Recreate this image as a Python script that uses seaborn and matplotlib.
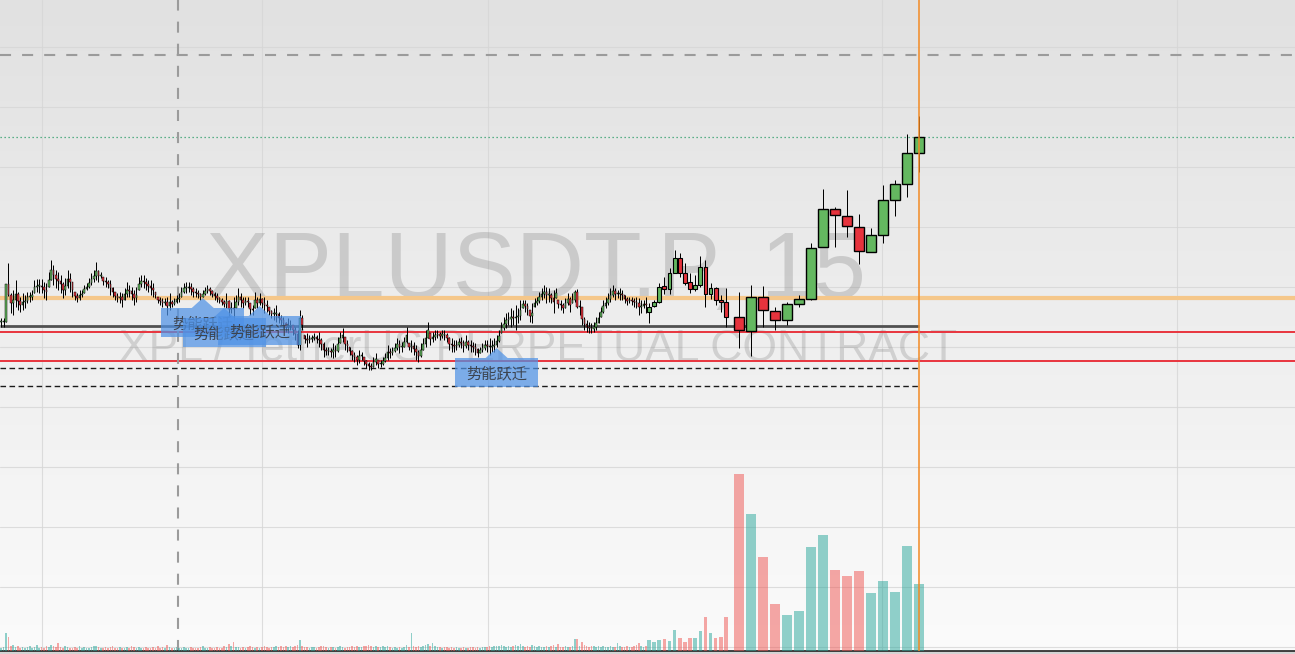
import numpy as np
import matplotlib
matplotlib.use("Agg")
import matplotlib.pyplot as plt
import matplotlib.transforms as mtransforms
from matplotlib.patches import Polygon, Rectangle
from matplotlib.colors import LinearSegmentedColormap
import seaborn as sns

sns.set_theme(style="white")
plt.rcParams['font.family'] = ['Noto Sans CJK SC', 'DejaVu Sans']

# ---------------- texts ----------------
symbol_title = "XPLUSDT.P, 15"
symbol_desc = "XPL / TetherUS PERPETUAL CONTRACT"
signal_text = "势能跃迁"

# ---------------- data (prices in thousandths of USDT) ----------------
# dense (compressed) history: high / low / close, open = previous close
dense_high = [
    682, 682, 716, 737, 707, 710, 720, 708, 703, 707,
    705, 708, 708, 710, 720, 721, 721, 721, 718, 717,
    728, 740, 735, 730, 728, 725, 718, 722, 730, 727,
    718, 708, 707, 710, 710, 715, 717, 722, 727, 730,
    738, 730, 728, 723, 723, 720, 720, 713, 708, 707,
    708, 707, 712, 718, 715, 713, 710, 713, 723, 725,
    725, 722, 720, 720, 717, 708, 703, 703, 702, 702,
    703, 707, 700, 702, 705, 707, 713, 717, 718, 718,
    717, 713, 712, 710, 707, 710, 713, 715, 713, 710,
    708, 707, 703, 702, 700, 707, 700, 698, 703, 705,
    712, 707, 703, 703, 703, 697, 695, 708, 703, 707,
    702, 703, 700, 693, 690, 692, 695, 688, 685, 683,
    678, 682, 680, 675, 673, 670, 690, 685, 665, 667,
    665, 665, 667, 665, 668, 662, 658, 653, 653, 652,
    657, 655, 663, 668, 672, 663, 660, 653, 650, 648,
    645, 650, 648, 643, 640, 638, 637, 643, 647, 640,
    640, 643, 647, 655, 652, 653, 657, 662, 660, 658,
    663, 673, 657, 660, 658, 655, 650, 657, 662, 670,
    678, 667, 668, 670, 670, 668, 670, 670, 667, 663,
    662, 660, 660, 662, 663, 660, 665, 660, 660, 658,
    657, 652, 653, 657, 660, 660, 662, 660, 662, 665, 670, 678, 683, 687,
    688, 692, 690, 695, 692, 700, 700, 700, 697, 690,
    697, 702, 703, 708, 712, 715, 713, 712, 707,
    710, 712, 700, 700, 697, 702, 707,
    703, 707, 710, 711, 700, 693, 683, 680, 678, 677,
    678, 683, 688, 693, 700, 703, 707, 712, 715, 712,
    710, 712, 710, 705, 703, 703, 703, 702, 703, 702,
    700, 700, 703,
]
dense_low = [
    673, 673, 678, 704, 687, 685, 693, 690, 688, 690,
    692, 697, 698, 700, 707, 708, 707, 707, 702, 700,
    713, 720, 715, 712, 710, 707, 702, 705, 712, 708,
    703, 700, 698, 700, 703, 707, 710, 712, 715, 718,
    720, 718, 722, 715, 713, 712, 705, 703, 700, 698,
    697, 693, 700, 703, 703, 700, 695, 698, 710, 713,
    712, 710, 708, 705, 703, 702, 697, 695, 693, 695,
    685, 690, 693, 695, 697, 698, 703, 707, 707, 708,
    705, 703, 703, 702, 700, 703, 705, 707, 705, 703,
    700, 698, 697, 695, 693, 692, 683, 687, 680, 692,
    695, 693, 692, 695, 693, 685, 685, 692, 692, 695,
    692, 687, 688, 685, 682, 680, 678, 677, 675, 672,
    668, 667, 670, 665, 660, 652, 650, 670, 657, 653,
    657, 658, 660, 657, 653, 650, 643, 645, 645, 643,
    642, 643, 648, 657, 658, 650, 648, 645, 640, 638,
    635, 637, 640, 635, 632, 630, 630, 633, 635, 632,
    633, 635, 638, 640, 642, 645, 648, 650, 647, 648,
    653, 657, 650, 648, 645, 640, 638, 643, 650, 653,
    662, 655, 658, 660, 662, 660, 662, 660, 658, 650,
    648, 648, 650, 653, 652, 648, 652, 650, 648, 648,
    645, 643, 647, 648, 650, 648, 645, 648, 648, 653, 658, 667, 670, 672,
    675, 673, 675, 670, 677, 680, 692, 688, 685, 678,
    677, 693, 695, 697, 700, 702, 697, 698, 697,
    687, 702, 692, 690, 687, 692, 695,
    688, 697, 698, 692, 685, 675, 670, 668, 667, 667,
    668, 670, 677, 683, 687, 692, 695, 698, 703, 700,
    702, 700, 700, 697, 695, 697, 695, 693, 692, 685,
    687, 692, 687,
]
dense_close = [
    678, 678, 716, 705, 697, 700, 706, 699, 695, 698,
    699, 703, 703, 705, 713, 714, 714, 713, 710, 708,
    720, 730, 725, 721, 719, 716, 710, 714, 721, 718,
    710, 704, 702, 705, 706, 711, 713, 717, 721, 724,
    729, 724, 725, 719, 718, 716, 712, 708, 704, 702,
    703, 700, 706, 710, 709, 706, 702, 705, 716, 719,
    718, 716, 714, 712, 710, 705, 700, 699, 697, 698,
    694, 698, 696, 698, 701, 702, 708, 712, 712, 713,
    711, 708, 707, 706, 703, 706, 709, 711, 709, 706,
    704, 702, 700, 698, 696, 699, 691, 692, 691, 698,
    703, 700, 697, 699, 698, 691, 690, 700, 697, 701,
    697, 695, 694, 689, 686, 686, 686, 682, 680, 677,
    673, 674, 675, 670, 666, 655, 682, 675, 661, 660,
    661, 662, 663, 661, 660, 656, 650, 649, 649, 648,
    650, 649, 656, 662, 665, 656, 654, 649, 645, 643,
    640, 644, 644, 639, 636, 634, 633, 638, 641, 636,
    636, 639, 642, 648, 647, 649, 652, 656, 653, 653,
    658, 665, 653, 654, 651, 648, 644, 650, 656, 662,
    670, 661, 663, 665, 666, 664, 666, 665, 662, 656,
    655, 654, 655, 658, 657, 654, 658, 655, 654, 653,
    651, 647, 650, 652, 655, 654, 653, 654, 655, 659, 664, 672, 676, 680,
    681, 683, 682, 683, 684, 690, 696, 694, 691, 684,
    687, 697, 699, 703, 706, 708, 705, 705, 702,
    698, 707, 696, 695, 692, 697, 701,
    695, 700, 708, 693, 693, 681, 676, 673, 672, 671,
    673, 677, 682, 688, 694, 697, 701, 705, 709, 706,
    706, 706, 705, 701, 699, 700, 699, 698, 697, 693,
    694, 696, 695,
]
dense_volume = [
    3, 4, 18, 14, 5, 6, 4, 5, 3, 4,
    3, 4, 5, 3, 4, 6, 3, 4, 3, 5,
    4, 6, 5, 4, 8, 4, 3, 5, 4, 3,
    3, 4, 3, 5, 3, 4, 3, 3, 4, 5,
    5, 4, 3, 3, 4, 3, 4, 5, 3, 3,
    4, 3, 3, 4, 3, 5, 4, 3, 4, 3,
    3, 4, 3, 3, 4, 3, 5, 3, 4, 3,
    6, 4, 3, 3, 4, 3, 3, 4, 3, 3,
    4, 3, 3, 3, 4, 5, 3, 3, 4, 3,
    3, 4, 3, 3, 5, 4, 7, 5, 9, 4,
    4, 3, 4, 3, 4, 5, 4, 3, 4, 3,
    4, 5, 4, 3, 4, 4, 5, 4, 5, 4,
    5, 4, 5, 4, 5, 6, 11, 5, 4, 4,
    3, 4, 4, 3, 4, 5, 5, 4, 3, 4,
    4, 3, 4, 5, 4, 3, 4, 4, 5, 4,
    5, 4, 4, 5, 5, 6, 5, 4, 5, 4,
    4, 5, 4, 5, 4, 3, 4, 3, 4, 3,
    4, 6, 4, 18, 5, 4, 5, 4, 5, 6,
    7, 5, 8, 5, 4, 4, 3, 4, 4, 3,
    4, 3, 4, 3, 3, 4, 3, 3, 4, 4,
    3, 4, 3, 4, 4, 4, 5, 4, 5, 5, 5, 6, 5, 4,
    5, 4, 5, 6, 5, 7, 5, 4, 5, 4,
    6, 5, 4, 5, 4, 4, 5, 4, 5,
    6, 4, 7, 4, 4, 5, 4,
    4, 5, 12, 12, 5, 9, 6, 5, 4, 5,
    5, 4, 5, 4, 5, 4, 4, 5, 4, 4,
    8, 5, 4, 4, 5, 4, 4, 5, 6, 8,
    5, 4, 5,
]

# transition candles
mid_open = [688, 694, 698, 714, 711, 727, 742, 727, 718, 711, 715, 733, 706, 712, 700, 698]
mid_high = [697, 700, 717, 723, 732, 750, 747, 737, 727, 725, 744, 740, 717, 713, 705, 712]
mid_low = [677, 693, 697, 706, 706, 727, 723, 715, 707, 709, 713, 693, 701, 695, 688, 673]
mid_close = [693, 698, 713, 711, 727, 742, 727, 717, 711, 715, 733, 706, 712, 700, 698, 683]
mid_volume = [11, 9, 11, 12, 10, 21, 13, 9, 13, 13, 20, 34, 18, 13, 14, 34]

# latest full-width candles
wide_open = [683, 669, 703, 689, 680, 696, 701, 753, 791, 784, 773, 748, 765, 800, 816, 847]
wide_high = [708, 715, 714, 693, 698, 705, 757, 811, 793, 810, 786, 772, 815, 820, 866, 884]
wide_low = [652, 644, 673, 670, 675, 693, 700, 753, 753, 763, 736, 748, 757, 784, 803, 828]
wide_close = [670, 703, 690, 680, 696, 701, 752, 791, 785, 774, 749, 765, 800, 816, 847, 863]
wide_volume = [177, 137, 94, 47, 36, 40, 104, 116, 81, 75, 80, 58, 70, 59, 105, 67]

# horizontal levels (thousandths)
level_top_dashed = 945
level_last_price = 863
level_orange = 702
level_dark = 674
level_red_1 = 668
level_red_2 = 639
level_dash_1 = 632
level_dash_2 = 614

signal_bars = [85, 94, 109, 209]   # dense bar indices carrying a label
session_break_bar = 75             # dense bar index of the vertical dashed line

# ---------------- layout / style constants ----------------
W, H = 1295, 654
DENSE_X0, DENSE_STEP = 1.3, 2.37
MID_X0, MID_STEP = 649.0, 5.13
WIDE_X0, WIDE_STEP = 739.0, 12.0
UP_BODY, DOWN_BODY = '#64b860', '#e6333d'
UP_VOL, DOWN_VOL = '#26a69a', '#ef5350'
PX = 72 / 100.0   # points per pixel


def k(v):
    return np.asarray(v, dtype=float) / 1000.0


dh, dl, dc = k(dense_high), k(dense_low), k(dense_close)
do = np.empty_like(dc)
do[0] = dc[0]
do[1:] = dc[:-1]
do = np.clip(do, dl, dh)

x_dense = DENSE_X0 + DENSE_STEP * np.arange(len(dc))
x_mid = MID_X0 + MID_STEP * np.arange(len(mid_close))
x_wide = WIDE_X0 + WIDE_STEP * np.arange(len(wide_close))

fig = plt.figure(figsize=(W / 100, H / 100), dpi=100)
fig.patch.set_facecolor('#d4d4d4')
ax = fig.add_axes([0, 3 / H, 1, 651 / H])
y_lo, y_hi = 0.349, 1.000
ax.set_xlim(0, W)
ax.set_ylim(y_lo, y_hi)

# background gradient
cmap = LinearSegmentedColormap.from_list('bg', ['#fbfbfb', '#e1e1e1'])
grad = np.linspace(0, 1, 256).reshape(-1, 1)
ax.imshow(grad, extent=[0, W, y_lo, y_hi], origin='lower', aspect='auto',
          cmap=cmap, zorder=0, interpolation='bicubic')

# grid
ax.set_yticks(np.arange(0.353, 0.96, 0.06))
ax.set_xticks([42, 262, 488, 882, 1177])
ax.grid(True, color='#d6d6d6', lw=0.8, alpha=0.8)
ax.set_axisbelow(True)
ax.tick_params(left=False, bottom=False, labelleft=False, labelbottom=False)
for s in ['top', 'left', 'right']:
    ax.spines[s].set_visible(False)
ax.spines['bottom'].set_color('#222222')
ax.spines['bottom'].set_linewidth(1.2)

# watermark
ax.text(536, 0.702, symbol_title, ha='center', va='baseline', fontsize=68,
        color=(0.5, 0.5, 0.5, 0.3), family=['Liberation Sans', 'DejaVu Sans'], zorder=1)
ax.text(538, 0.639, symbol_desc, ha='center', va='baseline', fontsize=32,
        color=(0.5, 0.5, 0.5, 0.28), family=['Liberation Sans', 'DejaVu Sans'], zorder=1)

x_last = x_wide[-1]
# level lines
ax.axhline(k(level_top_dashed), color='#9b9b9b', lw=1.5, ls=(0, (5.3, 5.3)), zorder=2)
ax.axhline(k(level_last_price), color='#2f9e6a', lw=0.9, ls=(0, (1, 2.2)), zorder=2)
ax.axhline(k(level_orange), color='#f5c78a', lw=3.0, zorder=2)
ax.hlines(k(level_dark), 0, x_last, color='#505050', lw=2.0, zorder=2)
ax.axhline(k(level_red_1), color='#e8343e', lw=1.4, zorder=2)
ax.axhline(k(level_red_2), color='#e8343e', lw=1.4, zorder=2)
ax.hlines(k(level_dash_1), 0, x_last, color='#1a1a1a', lw=1.0, linestyles=[(0, (4, 2.5))], zorder=2)
ax.hlines(k(level_dash_2), 0, x_last, color='#1a1a1a', lw=1.0, linestyles=[(0, (4, 2.5))], zorder=2)

# vertical session line
ax.axvline(x_dense[session_break_bar] - DENSE_STEP / 2, color='#9b9b9b', lw=1.5,
           ls=(0, (5.3, 5.3)), zorder=2)


def draw_candles(x, o, h, l, c, body_w, edge_lw):
    o, h, l, c = map(np.asarray, (o, h, l, c))
    up = c >= o
    ax.vlines(x, l, h, color='black', lw=1.0 * PX, zorder=3)
    bottom = np.minimum(o, c)
    height = np.maximum(np.abs(c - o), 0.0009)
    ax.bar(x[up], height[up], bottom=bottom[up], width=body_w, color=UP_BODY,
           edgecolor='black', linewidth=edge_lw, zorder=4)
    ax.bar(x[~up], height[~up], bottom=bottom[~up], width=body_w, color=DOWN_BODY,
           edgecolor='black', linewidth=edge_lw, zorder=4)
    return up


up_d = draw_candles(x_dense, do, dh, dl, dc, 1.6, 0.35)
up_m = draw_candles(x_mid, k(mid_open), k(mid_high), k(mid_low), k(mid_close), 3.8, 0.8)
up_w = draw_candles(x_wide, k(wide_open), k(wide_high), k(wide_low), k(wide_close), 9.5, 1.0)

# volume on a twin axis
ax2 = ax.twinx()
ax2.set_ylim(0, 651)
ax2.set_xlim(0, W)
ax2.axis('off')
for xs, vol, up, w in [(x_dense, dense_volume, up_d, 1.6),
                       (x_mid, mid_volume, up_m, 3.6),
                       (x_wide, wide_volume, up_w, 10.3)]:
    vol = np.asarray(vol, dtype=float)
    cols = np.where(up, UP_VOL, DOWN_VOL)
    ax2.bar(xs, vol, width=w, color=cols, alpha=0.5, linewidth=0, zorder=1)
ax2.axvline(x_last - 0.5, color='#f28a24', lw=1.1, zorder=5)


# signal labels
def draw_label(xv, yv, text, z):
    base = mtransforms.ScaledTranslation(xv, yv, ax.transData)
    pxt = mtransforms.Affine2D() + base
    gap, th, tw, bw, bh = 1, 10, 11, 83, 29
    tri = Polygon([(0, -gap), (-tw, -gap - th), (tw, -gap - th)], closed=True,
                  transform=pxt, facecolor='#4f92e6', alpha=0.72, lw=0, zorder=z)
    box = Rectangle((-bw / 2, -gap - th - bh), bw, bh, transform=pxt,
                    facecolor='#4f92e6', alpha=0.72, lw=0, zorder=z)
    ax.add_patch(tri)
    ax.add_patch(box)
    ax.text(0, -gap - th - bh / 2 - 1, text, transform=pxt, ha='center', va='center',
            fontsize=11, color='#3c4450', zorder=z + 0.01,
            family=['Noto Sans CJK SC', 'DejaVu Sans'])


for n, i in enumerate(signal_bars):
    draw_label(x_dense[i], dl[i], signal_text, 6 + n * 0.1)

fig.savefig('out.png', dpi=100, facecolor=fig.get_facecolor())
